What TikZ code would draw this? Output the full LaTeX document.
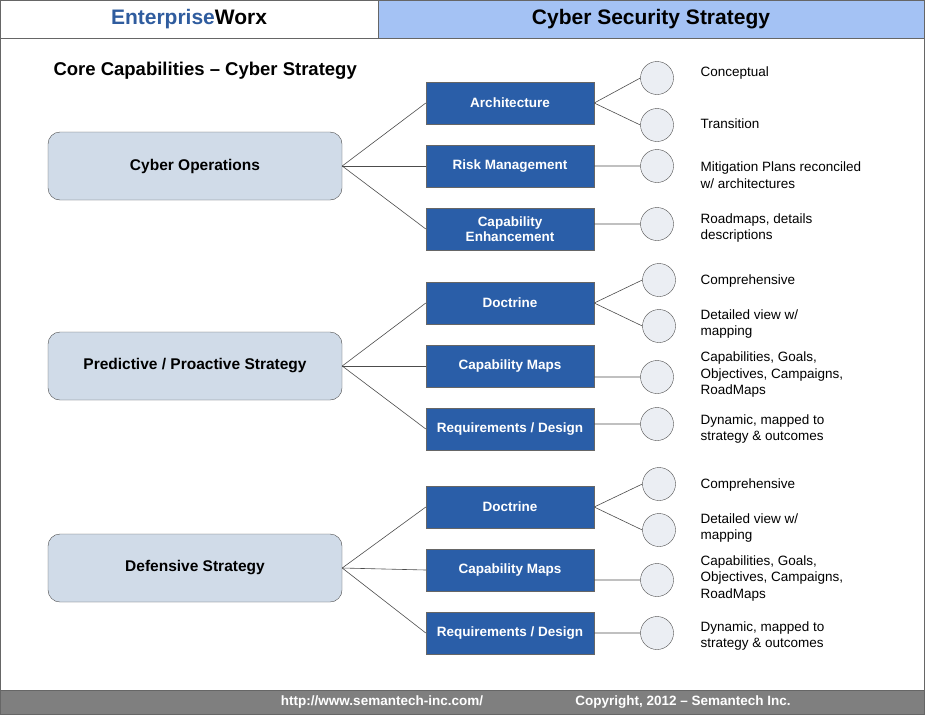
\documentclass[tikz,border=0pt]{standalone}
\usepackage{fontspec}
\setmainfont{Liberation Sans}
\definecolor{hdrblue}{HTML}{A4C2F4}
\definecolor{logoblue}{HTML}{2F5C9E}
\definecolor{capblue}{HTML}{2A5EA8}
\definecolor{opsfill}{HTML}{D0DBE8}
\definecolor{dotfill}{HTML}{EBEEF3}
\definecolor{footgray}{HTML}{7F7F7F}
\begin{document}
\begin{tikzpicture}[x=1pt,y=-1pt,
  opsbox/.style={draw=black!70, fill=opsfill, rounded corners=12pt, minimum width=294pt, minimum height=68pt, font=\fontsize{15.5}{17}\selectfont\bfseries},
  capbox/.style={draw=black!60, fill=capblue, text=white, minimum width=168pt, minimum height=42pt, align=center, font=\fontsize{13.5}{15.5}\selectfont\bfseries},
  dot/.style={circle, draw=black!70, fill=dotfill, minimum size=33pt, inner sep=0pt},
  note/.style={anchor=west, align=left, font=\fontsize{13.5}{16.5}\selectfont},
  link/.style={draw=black!70, line width=0.6pt}]
\useasboundingbox (0,0) rectangle (925,715);
% header and footer
\fill[hdrblue] (378,0) rectangle (925,38);
\fill[footgray] (0,690) rectangle (925,715);
\draw[black!60, line width=1pt] (0.5,0.5) rectangle (924.5,714.5);
\draw[black!60, line width=1pt] (0,38) -- (925,38) (378,0) -- (378,38) (0,690) -- (925,690);
\node[font=\fontsize{21}{24}\selectfont\bfseries] (logo) at (189,19) {\textcolor{logoblue}{Enterprise}Worx};
\node[font=\fontsize{21}{24}\selectfont\bfseries] (head) at (651,19) {Cyber Security Strategy};
\node[font=\fontsize{13.5}{15}\selectfont\bfseries, text=white] (url) at (382,702) {http://www.semantech-inc.com/};
\node[font=\fontsize{13.5}{15}\selectfont\bfseries, text=white] (copy) at (683,702) {Copyright, 2012 -- Semantech Inc.};
\node[anchor=west, font=\fontsize{18.5}{21}\selectfont\bfseries] (title) at (50,71) {Core Capabilities -- Cyber Strategy};

% group 1
\node[opsbox] (ops) at (195,166) {Cyber Operations};
\node[capbox] (arch) at (510,103) {Architecture};
\node[capbox] (risk) at (510,166) {Risk Management};
\node[capbox] (enh) at (510,229) {Capability\\Enhancement};
\node[dot] (c1) at (657,78) {};
\node[dot] (c2) at (657,125) {};
\node[dot] (c3) at (657,166) {};
\node[dot] (c4) at (657,224) {};
\node[note] at (697,73) {Conceptual};
\node[note] at (697,124) {Transition};
\node[note] at (697,175) {Mitigation Plans reconciled\\w/ architectures};
\node[note] at (697,228) {Roadmaps, details\\descriptions};
\foreach \b in {arch,risk,enh} \draw[link] (ops.east) -- (\b.west);
\draw[link] (arch.east) -- (c1.west) (arch.east) -- (c2.west) (c3.west) -- (c3.west -| risk.east) (c4.west) -- (c4.west -| enh.east);

% group 2
\node[opsbox] (pred) at (195,366) {Predictive / Proactive Strategy};
\node[capbox] (doca) at (510,303) {Doctrine};
\node[capbox] (mapa) at (510,366) {Capability Maps};
\node[capbox] (reqa) at (510,429) {Requirements / Design};
\node[dot] (d1) at (659,280) {};
\node[dot] (d2) at (659,326) {};
\node[dot] (d3) at (657,377) {};
\node[dot] (d4) at (657,424) {};
\node[note] at (697,281) {Comprehensive};
\node[note] at (697,324) {Detailed view w/\\mapping};
\node[note] at (697,375) {Capabilities, Goals,\\Objectives, Campaigns,\\RoadMaps};
\node[note] at (697,429) {Dynamic, mapped to\\strategy \& outcomes};
\foreach \b in {doca,mapa,reqa} \draw[link] (pred.east) -- (\b.west);
\draw[link] (doca.east) -- (d1.west) (doca.east) -- (d2.west) (d3.west) -- (d3.west -| mapa.east) (d4.west) -- (d4.west -| reqa.east);

% group 3
\node[opsbox] (def) at (195,568) {Defensive Strategy};
\node[capbox] (docb) at (510,507) {Doctrine};
\node[capbox] (mapb) at (510,570) {Capability Maps};
\node[capbox] (reqb) at (510,633) {Requirements / Design};
\node[dot] (e1) at (659,484) {};
\node[dot] (e2) at (659,530) {};
\node[dot] (e3) at (657,580) {};
\node[dot] (e4) at (657,633) {};
\node[note] at (697,485) {Comprehensive};
\node[note] at (697,528) {Detailed view w/\\mapping};
\node[note] at (697,578) {Capabilities, Goals,\\Objectives, Campaigns,\\RoadMaps};
\node[note] at (697,636) {Dynamic, mapped to\\strategy \& outcomes};
\foreach \b in {docb,mapb,reqb} \draw[link] (def.east) -- (\b.west);
\draw[link] (docb.east) -- (e1.west) (docb.east) -- (e2.west) (e3.west) -- (e3.west -| mapb.east) (e4.west) -- (e4.west -| reqb.east);
\end{tikzpicture}
\end{document}
